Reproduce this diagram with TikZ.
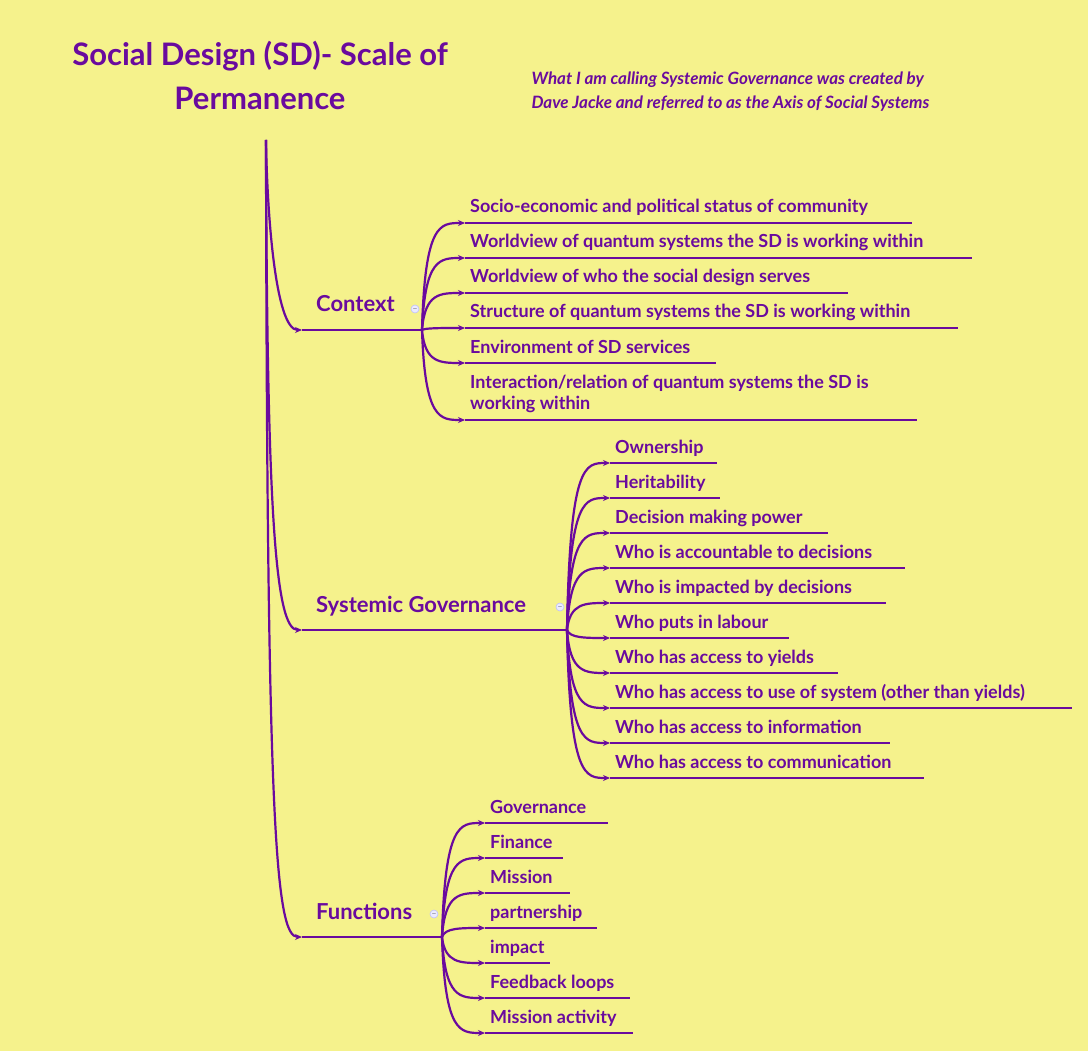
\documentclass[tikz,border=0pt]{standalone}
\usepackage{fontspec}
\setmainfont{Lato}
\usetikzlibrary{arrows.meta}
\definecolor{bg}{HTML}{F5F28C}
\definecolor{pur}{HTML}{6A0A9E}
\begin{document}
\begin{tikzpicture}[x=1pt,y=-1pt,
  conn/.style={draw=pur,line width=2.2pt,-{Stealth[length=7pt,width=6pt]}},
  uline/.style={draw=pur,line width=2.2pt},
  leaf/.style={anchor=base west,inner sep=0,text=pur,font=\bfseries\fontsize{18}{21}\selectfont},
  topic/.style={anchor=base west,inner sep=0,text=pur,font=\bfseries\fontsize{22}{26}\selectfont},
  tog/.style={circle,draw=blue!25,fill=blue!8,inner sep=0,minimum size=8pt,line width=0.6pt}]
\fill[bg] (0,0) rectangle (1088,1051);
\useasboundingbox (0,0) rectangle (1088,1051);
\node[text=pur,font=\bfseries\fontsize{31}{44}\selectfont,align=center] (title) at (260,75) {Social Design (SD)- Scale of\\Permanence};
\node[text=pur,font=\bfseries\itshape\fontsize{17}{24}\selectfont,align=left,anchor=west] (note) at (528,92) {What I am calling Systemic Governance was created by\\Dave Jacke and referred to as the Axis of Social Systems};
\coordinate (root) at (266,140);
% main topics
\foreach \n/\t/\y/\e in {ctx/Context/330/422, sg/Systemic Governance/630/567, fn/Functions/937/442}{
  \coordinate (\n-s) at (302,\y);
  \coordinate (\n-b) at (\e,\y);
  \node[topic] (\n) at (316,\y-18) {\t};
  \draw[conn] (root) .. controls (267,\y-120) and (275,\y) .. (\n-s);
  \draw[uline] (\n-s) -- (\n-b);
}
\node[tog] (t1) at (415,309) {\tiny$-$};
\node[tog] (t2) at (560,607) {\tiny$-$};
\node[tog] (t3) at (434,914) {\tiny$-$};
% context leaves
\foreach \i/\y/\e/\t in {1/223/912/Socio-economic and political status of community,
 2/258/972/Worldview of quantum systems the SD is working within,
 3/293/848/Worldview of who the social design serves,
 4/328/958/Structure of quantum systems the SD is working within,
 5/363/716/Environment of SD services}{
  \coordinate (c\i) at (465,\y);
  \node[leaf] (cl\i) at (470,\y-10) {\t};
  \draw[conn] (ctx-b) .. controls (425,\y) and (440,\y) .. (c\i);
  \draw[uline] (c\i) -- (\e,\y);
}
\coordinate (c6) at (465,420);
\node[leaf,align=left,anchor=south west] (cl6) at (470,413) {Interaction/relation of quantum systems the SD is\\working within};
\draw[conn] (ctx-b) .. controls (425,420) and (440,420) .. (c6);
\draw[uline] (c6) -- (917,420);
% SG leaves
\foreach \i/\y/\e/\t in {1/463/717/Ownership,2/498/720/Heritability,3/533/828/Decision making power,
 4/568/905/Who is accountable to decisions,5/603/886/Who is impacted by decisions,6/638/789/Who puts in labour,
 7/673/838/Who has access to yields,8/708/1072/Who has access to use of system (other than yields),
 9/743/890/Who has access to information,10/778/924/Who has access to communication}{
  \coordinate (s\i) at (610,\y);
  \node[leaf] (sl\i) at (615,\y-10) {\t};
  \draw[conn] (sg-b) .. controls (570,\y) and (585,\y) .. (s\i);
  \draw[uline] (s\i) -- (\e,\y);
}
% Functions leaves
\foreach \i/\y/\e/\t in {1/823/608/Governance,2/858/563/Finance,3/893/570/Mission,4/928/597/partnership,
 5/963/550/impact,6/998/630/Feedback loops,7/1033/633/Mission activity}{
  \coordinate (f\i) at (485,\y);
  \node[leaf] (fl\i) at (490,\y-10) {\t};
  \draw[conn] (fn-b) .. controls (445,\y) and (460,\y) .. (f\i);
  \draw[uline] (f\i) -- (\e,\y);
}
\end{tikzpicture}
\end{document}
